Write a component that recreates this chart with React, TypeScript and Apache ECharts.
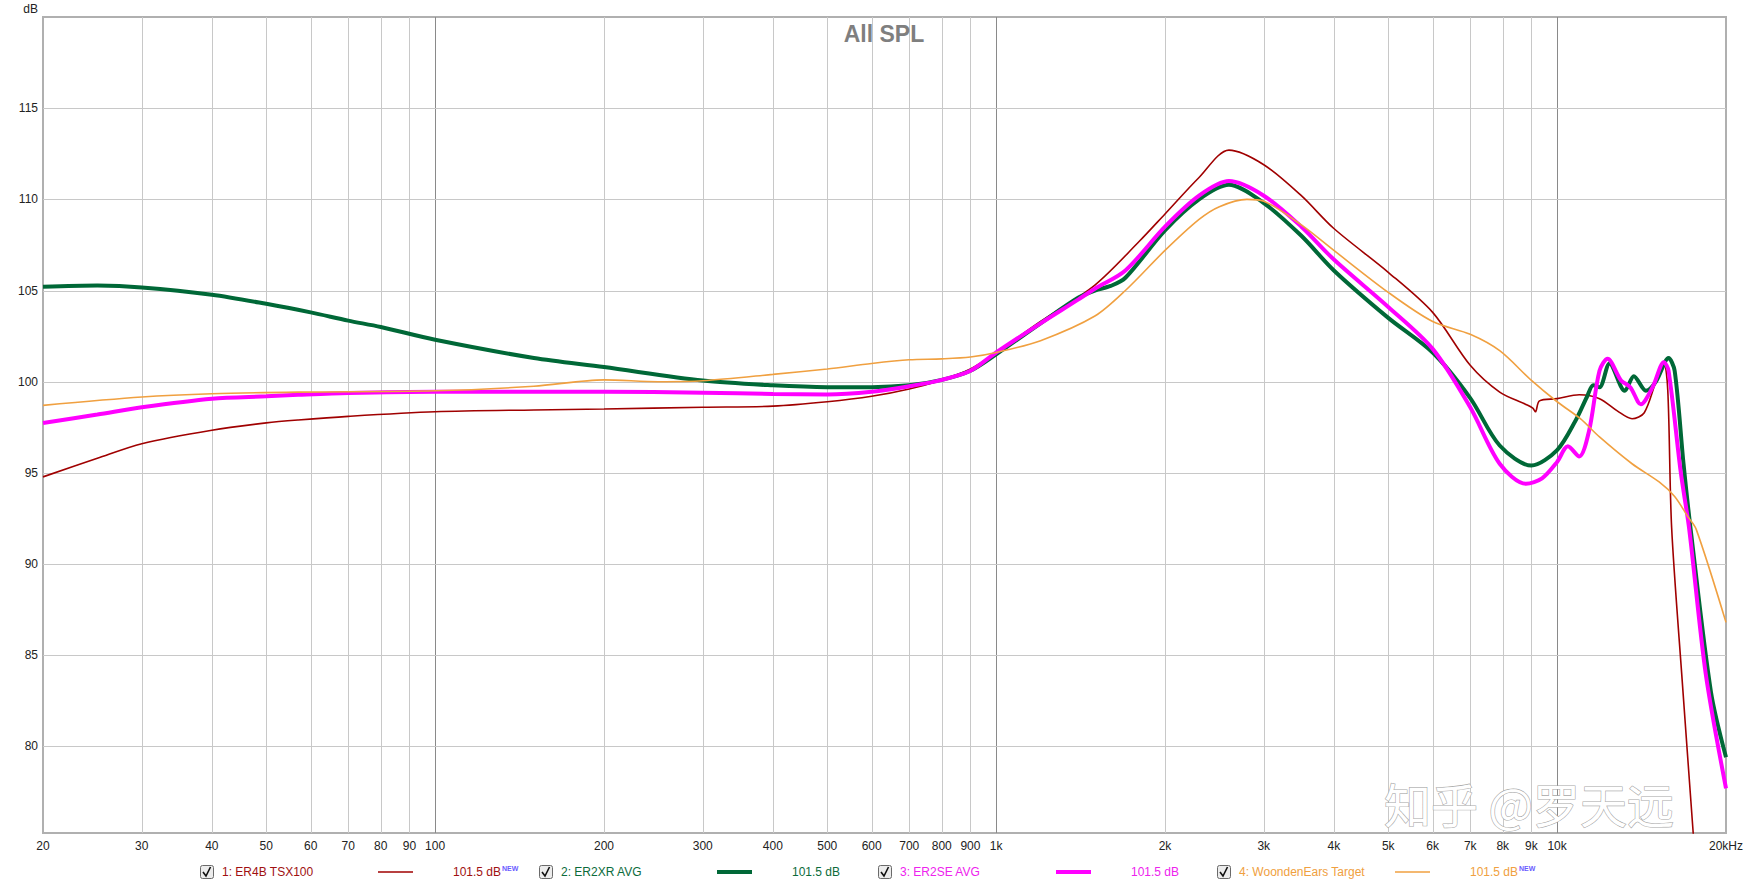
import React, { useEffect, useRef } from "react";
import * as echarts from "echarts";

// ---------- axis ticks ----------
const FREQ_TICKS = [20, 30, 40, 50, 60, 70, 80, 90, 100, 200, 300, 400, 500, 600, 700, 800, 900, 1000, 2000, 3000, 4000, 5000, 6000, 7000, 8000, 9000, 10000, 20000];
const FREQ_LABELS = ["20", "30", "40", "50", "60", "70", "80", "90", "100", "200", "300", "400", "500", "600", "700", "800", "900", "1k", "2k", "3k", "4k", "5k", "6k", "7k", "8k", "9k", "10k", "20kHz"];
const MAJOR_FREQS = [100, 1000, 10000];
const DB_TICKS = [80, 85, 90, 95, 100, 105, 110, 115];
const DB_MIN = 75.25;
const DB_MAX = 120;
const F_MIN = 20;
const F_MAX = 20000;

// ---------- series data ----------
const ER4B_FREQ = [20, 25, 30, 40, 50, 57, 70, 100, 150, 200, 300, 400, 500, 600, 700, 800, 900, 1000, 1200, 1500, 1800, 2000, 2300, 2600, 3000, 3500, 4000, 5000, 6000, 7000, 7900, 8800, 9050, 9150, 9300, 10000, 10950, 11900, 12800, 13600, 14300, 15000, 15500, 15750, 16000, 16700, 17600];
const ER4B_DB = [94.78, 95.8, 96.6, 97.34, 97.74, 97.9, 98.1, 98.35, 98.45, 98.5, 98.6, 98.66, 98.9, 99.2, 99.6, 100.1, 100.7, 101.6, 103.3, 105.3, 107.7, 109.2, 111.2, 112.7, 111.9, 110.2, 108.4, 106.0, 103.8, 100.9, 99.43, 98.75, 98.55, 98.35, 98.95, 99.07, 99.28, 99.07, 98.4, 97.97, 98.3, 100.0, 101.0, 99.5, 92.0, 83.7, 74.0];

const ER2XR_FREQ = [20, 25, 30, 40, 50, 60, 70, 80, 100, 150, 200, 300, 400, 500, 600, 700, 800, 900, 1000, 1200, 1400, 1500, 1600, 1700, 2000, 2300, 2600, 3000, 3500, 4000, 5000, 6000, 7000, 7900, 9000, 10000, 10800, 11300, 11600, 11900, 12400, 13200, 13700, 14400, 15000, 15800, 16200, 16800, 17300, 18800, 20000];
const ER2XR_DB = [105.2, 105.27, 105.17, 104.77, 104.27, 103.8, 103.35, 103.0, 102.3, 101.3, 100.8, 100.06, 99.8, 99.7, 99.7, 99.8, 100.1, 100.6, 101.5, 103.2, 104.6, 105.0, 105.25, 105.7, 108.3, 110.0, 110.8, 109.8, 108.0, 106.1, 103.5, 101.6, 99.1, 96.5, 95.4, 96.25, 97.9, 99.16, 99.8, 99.7, 101.0, 99.5, 100.3, 99.5, 100.0, 101.3, 100.6, 95.5, 91.9, 83.0, 79.4];

const ER2SE_FREQ = [20, 25, 30, 40, 50, 57, 70, 100, 200, 300, 400, 500, 600, 700, 800, 900, 1000, 1200, 1400, 1500, 1700, 2000, 2300, 2600, 3000, 3500, 4000, 5000, 6000, 7000, 7900, 8800, 9400, 10000, 10450, 10950, 11400, 11900, 12300, 13000, 13500, 14100, 14800, 15500, 15800, 16600, 17200, 18400, 20000];
const ER2SE_DB = [97.74, 98.2, 98.6, 99.07, 99.2, 99.28, 99.38, 99.45, 99.45, 99.4, 99.33, 99.3, 99.45, 99.75, 100.1, 100.6, 101.6, 103.2, 104.5, 105.1, 106.1, 108.5, 110.2, 111.0, 110.2, 108.5, 106.7, 104.1, 101.8, 98.6, 95.5, 94.4, 94.7, 95.6, 96.46, 95.9, 97.3, 100.6, 101.26, 100.07, 99.7, 98.76, 99.7, 101.07, 100.6, 95.1, 91.9, 84.0, 77.7];

const TARGET_FREQ = [20, 30, 40, 57, 100, 150, 200, 250, 300, 400, 500, 600, 700, 800, 900, 1000, 1200, 1500, 1700, 2000, 2300, 2500, 2800, 3000, 3500, 4000, 5000, 6000, 7000, 7900, 9000, 10000, 11000, 11900, 13600, 15200, 16200, 17100, 17700, 20000];
const TARGET_DB = [98.7, 99.16, 99.34, 99.43, 99.5, 99.75, 100.1, 100.0, 100.05, 100.4, 100.7, 101.0, 101.2, 101.25, 101.35, 101.6, 102.25, 103.6, 105.0, 107.2, 108.9, 109.6, 110.0, 109.9, 108.6, 107.2, 104.9, 103.3, 102.6, 101.7, 100.07, 98.9, 97.97, 96.97, 95.5, 94.5, 93.7, 92.6, 91.9, 86.8];

const SERIES_NAMES = ["1: ER4B TSX100", "2: ER2XR AVG", "3: ER2SE AVG", "4: WoondenEars Target"];
const SERIES_LEVELS = ["101.5 dB", "101.5 dB", "101.5 dB", "101.5 dB"];
const SERIES_NEW = [true, false, false, true];
const SERIES_FREQS = [ER4B_FREQ, ER2XR_FREQ, ER2SE_FREQ, TARGET_FREQ];
const SERIES_DBS = [ER4B_DB, ER2XR_DB, ER2SE_DB, TARGET_DB];

// ---------- styles ----------
const LINE_COLORS = ["#a00000", "#006837", "#ff00ff", "#f0a040"];
const TEXT_COLORS = ["#a01010", "#0b6b3b", "#ee22ee", "#f0a040"];
const LINE_WIDTHS = [1.6, 4, 4, 1.6];
const FONT = '"Liberation Sans", Arial, sans-serif';

const lg = (f: number) => Math.log10(f);

export default function App() {
  const ref = useRef<HTMLDivElement>(null);

  useEffect(() => {
    if (!ref.current) return;
    const chart = echarts.init(ref.current, undefined, { renderer: "svg" });

    const lineSeries = SERIES_NAMES.map((name, si) => ({
      name,
      type: "line",
      data: SERIES_FREQS[si].map((f, i) => [lg(f), SERIES_DBS[si][i]]),
      showSymbol: false,
      symbol: "none",
      smooth: 0.3,
      lineStyle: { color: LINE_COLORS[si], width: LINE_WIDTHS[si] },
      itemStyle: { color: LINE_COLORS[si] },
      z: 3 + si,
      silent: true,
    }));

    const vGrid = {
      type: "custom",
      silent: true,
      z: 1,
      clip: false,
      data: FREQ_TICKS.map((f, i) => [lg(f), i]),
      renderItem: (_p: any, api: any) => {
        const lx = api.value(0);
        const idx = api.value(1);
        const f = FREQ_TICKS[idx];
        const top = api.coord([lx, DB_MAX]);
        const bot = api.coord([lx, DB_MIN]);
        const x = Math.round(top[0]) + 0.5;
        const children: any[] = [];
        if (f !== F_MIN && f !== F_MAX) {
          children.push({
            type: "line",
            shape: { x1: x, y1: top[1], x2: x, y2: bot[1] },
            style: { stroke: MAJOR_FREQS.includes(f) ? "#8a8a8a" : "#c8c8c8", lineWidth: 1 },
          });
        }
        children.push({
          type: "text",
          style: {
            text: FREQ_LABELS[idx],
            x: top[0],
            y: bot[1] + 13,
            align: "center",
            verticalAlign: "middle",
            textAlign: "center",
            textVerticalAlign: "middle",
            fill: "#222",
            font: `12px ${FONT}`,
          },
        });
        return { type: "group", children };
      },
    };

    const hGrid = {
      type: "custom",
      silent: true,
      z: 1,
      clip: false,
      data: DB_TICKS.map((d) => [lg(F_MIN), d]),
      renderItem: (_p: any, api: any) => {
        const d = api.value(1);
        const l = api.coord([lg(F_MIN), d]);
        const r = api.coord([lg(F_MAX), d]);
        const y = Math.round(l[1]) + 0.5;
        return {
          type: "group",
          children: [
            {
              type: "line",
              shape: { x1: l[0], y1: y, x2: r[0], y2: y },
              style: { stroke: "#c8c8c8", lineWidth: 1 },
            },
            {
              type: "text",
              style: {
                text: String(d),
                x: l[0] - 5,
                y: l[1],
                align: "right",
                verticalAlign: "middle",
                textAlign: "right",
                textVerticalAlign: "middle",
                fill: "#222",
                font: `12px ${FONT}`,
              },
            },
          ],
        };
      },
    };

    // legend (graphic)
    const legendEls: any[] = [];
    SERIES_NAMES.forEach((name, i) => {
      const base = 200 + i * 339;
      const cy = 872;
      legendEls.push({
        type: "rect",
        shape: { x: base + 0.5, y: cy - 6.5, width: 13, height: 13, r: 2 },
        style: { fill: "#ececec", stroke: "#6a6a6a", lineWidth: 1 },
      });
      legendEls.push({
        type: "polyline",
        shape: { points: [[base + 3, cy], [base + 6, cy + 4], [base + 10.5, cy - 5]] },
        style: { stroke: "#111", lineWidth: 1.6, fill: null },
      });
      legendEls.push({
        type: "text",
        style: { text: name, x: base + 22, y: cy, fill: TEXT_COLORS[i], font: `12px ${FONT}`, textVerticalAlign: "middle", verticalAlign: "middle" },
      });
      legendEls.push({
        type: "line",
        shape: { x1: base + 178, y1: cy, x2: base + 213, y2: cy },
        style: { stroke: LINE_COLORS[i], lineWidth: LINE_WIDTHS[i] },
      });
      legendEls.push({
        type: "text",
        style: { text: SERIES_LEVELS[i], x: base + 253, y: cy, fill: TEXT_COLORS[i], font: `12px ${FONT}`, textVerticalAlign: "middle", verticalAlign: "middle" },
      });
      if (SERIES_NEW[i]) {
        legendEls.push({
          type: "text",
          style: { text: "NEW", x: base + 302, y: cy - 4, fill: "#6a5cff", font: `bold 7px ${FONT}`, textVerticalAlign: "middle", verticalAlign: "middle" },
        });
      }
    });

    chart.setOption({
      animation: false,
      backgroundColor: "#ffffff",
      grid: {
        left: 43,
        right: 22,
        top: 17,
        bottom: 55,
        show: true,
        borderColor: "#b0b0b0",
        borderWidth: 2,
        backgroundColor: "transparent",
      },
      xAxis: {
        type: "value",
        min: lg(F_MIN),
        max: lg(F_MAX),
        show: false,
        splitLine: { show: false },
      },
      yAxis: {
        type: "value",
        min: DB_MIN,
        max: DB_MAX,
        show: false,
        splitLine: { show: false },
      },
      graphic: [
        {
          type: "text",
          x: 884,
          y: 34,
          z: 10,
          style: { text: "All SPL", fill: "#7f7f7f", font: `bold 23px ${FONT}`, textAlign: "center", align: "center", textVerticalAlign: "middle", verticalAlign: "middle" },
        },
        {
          type: "text",
          x: 38,
          y: 9,
          style: { text: "dB", fill: "#222", font: `12px ${FONT}`, textAlign: "right", align: "right", textVerticalAlign: "middle", verticalAlign: "middle" },
        },
        ...legendEls,
        {
          type: "text",
          x: 1384,
          y: 802,
          z: 100,
          style: {
            text: "知乎 @罗天远",
            fill: "#ffffff",
            stroke: "#a8a8a8",
            lineWidth: 1.2,
            font: '47px "Noto Sans CJK SC"',
            textVerticalAlign: "middle",
            verticalAlign: "middle",
            shadowColor: "rgba(0,0,0,0.35)",
            shadowBlur: 2,
            shadowOffsetX: 2,
            shadowOffsetY: 2,
          },
        },
      ],
      series: [vGrid, hGrid, ...lineSeries],
    });

    return () => chart.dispose();
  }, []);

  return (
    <div
      ref={ref}
      style={{ position: "fixed", left: 0, top: 0, width: 1748, height: 888, background: "#fff" }}
    />
  );
}
